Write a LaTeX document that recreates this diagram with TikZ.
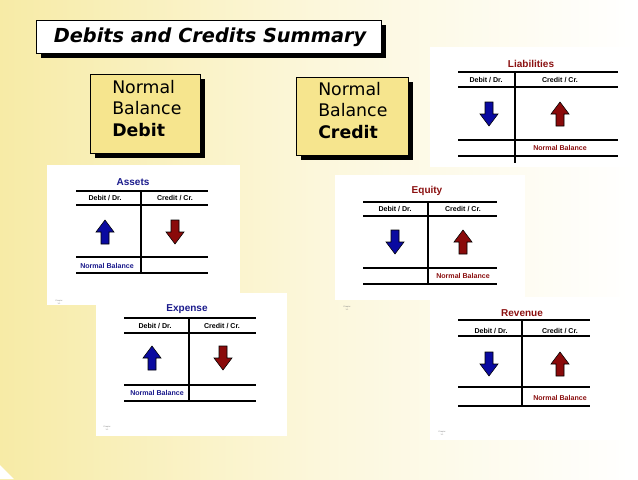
\documentclass[tikz,border=0pt]{standalone}
\usepackage{fontspec}
\setmainfont{Liberation Sans}
\newfontfamily\comic{DejaVu Sans}
\begin{document}
\begin{tikzpicture}[x=0.75pt,y=-0.75pt,
  panel/.style={fill=white,draw=none},
  rule/.style={line width=1.4pt,black},
  hdr/.style={font=\bfseries\fontsize{5.3}{6}\selectfont,inner sep=0pt},
  ttl/.style={font=\bfseries\fontsize{7.5}{8}\selectfont,inner sep=0pt},
  nb/.style={font=\comic\fontsize{13}{16}\selectfont,align=left,inner sep=0pt,anchor=north west},
  pics/uparr/.style={code={\draw[fill=#1,line width=0.4pt] (-4,12)--(-4,0)--(-9,0)--(0,-12)--(9,0)--(4,0)--(4,12)--cycle;}},
  pics/dnarr/.style={code={\draw[fill=#1,line width=0.4pt] (-4,-12)--(-4,0)--(-9,0)--(0,12)--(9,0)--(4,0)--(4,-12)--cycle;}},
  tiny/.style={font=\fontsize{1.5}{2}\selectfont,inner sep=0pt,gray}
]
\definecolor{bgy}{HTML}{F7EBA6}
\definecolor{boxy}{HTML}{F6E58E}
\definecolor{dred}{HTML}{8B1010}
\definecolor{navy}{HTML}{1A1A8C}
\definecolor{ablue}{HTML}{0A0AA0}
\definecolor{ared}{HTML}{8A0A0A}
\useasboundingbox (0,0) rectangle (638,479);
\shade[left color=bgy,right color=white,middle color=white!60!bgy] (0,0) rectangle (638,479);
\fill[white] (0,465)--(14,479)--(0,479)--cycle;
% title
\fill[black] (41,25) rectangle (386,58);
\draw[fill=white] (36,20) rectangle (381,53);
\node[inner sep=0pt,font=\comic\bfseries\itshape\fontsize{14.5}{16}\selectfont] (title) at (210,37) {Debits and Credits Summary};
% normal balance boxes
\fill[black] (95,79) rectangle (205,158);
\draw[fill=boxy] (90,74) rectangle (200,153);
\node[nb] (nbdt) at (112,80) {Normal\\Balance\\\bfseries Debit};
\fill[black] (301,82) rectangle (413,160);
\draw[fill=boxy] (296,77) rectangle (408,155);
\node[nb] (nbct) at (318,82) {Normal\\Balance\\\bfseries Credit};
% Liabilities
\fill[panel] (430,47) rectangle (630,167);
\node[ttl,dred] (lt) at (531,64) {Liabilities};
\draw[rule] (458,72)--(618,72) (458,87)--(618,87) (458,140)--(618,140) (458,156)--(618,156) (515,72)--(515,163);
\node[hdr] (ld) at (486,80) {Debit / Dr.};
\node[hdr] (lc) at (560,80) {Credit / Cr.};
\pic at (489,114) {dnarr=ablue};
\pic at (560,114) {uparr=ared};
\node[hdr,dred] (ln) at (560,148) {Normal Balance};
% Assets
\fill[panel] (47,165) rectangle (240,305);
\node[ttl,navy] (at) at (133,182) {Assets};
\draw[rule] (76,191)--(208,191) (76,205)--(208,205) (76,257)--(208,257) (76,273)--(208,273) (141,191)--(141,273);
\node[hdr] (ad) at (105,198) {Debit / Dr.};
\node[hdr] (ac) at (175,198) {Credit / Cr.};
\pic at (105,232) {uparr=ablue};
\pic at (175,232) {dnarr=ared};
\node[hdr,navy] (an) at (107,266) {Normal Balance};
\node[tiny,align=center] (ach) at (59,302) {Chapter\\1-1};
% Equity
\fill[panel] (335,175) rectangle (525,300);
\node[ttl,dred] (et) at (427,191) {Equity};
\draw[rule] (363,202)--(497,202) (363,216)--(497,216) (363,268)--(497,268) (363,284)--(497,284) (428,202)--(428,285);
\node[hdr] (ed) at (395,209) {Debit / Dr.};
\node[hdr] (ec) at (463,209) {Credit / Cr.};
\pic at (395,242) {dnarr=ablue};
\pic at (463,242) {uparr=ared};
\node[hdr,dred] (en) at (463,276) {Normal Balance};
\node[tiny,align=center] (ech) at (347,308) {Chapter\\1-1};
% Expense
\fill[panel] (96,293) rectangle (287,436);
\node[ttl,navy] (xt) at (187,309) {Expense};
\draw[rule] (124,318)--(256,318) (124,333)--(256,333) (124,385)--(256,385) (124,401)--(256,401) (189,318)--(189,402);
\node[hdr] (xd) at (155,326) {Debit / Dr.};
\node[hdr] (xc) at (222,326) {Credit / Cr.};
\pic at (152,358) {uparr=ablue};
\pic at (223,358) {dnarr=ared};
\node[hdr,navy] (xn) at (157,393) {Normal Balance};
\node[tiny,align=center] (xch) at (107,428) {Chapter\\1-1};
% Revenue
\fill[panel] (430,297) rectangle (620,440);
\node[ttl,dred] (rt) at (522,313) {Revenue};
\draw[rule] (458,320)--(590,320) (458,336)--(590,336) (458,387)--(590,387) (458,406)--(590,406) (522,320)--(522,406);
\node[hdr] (rd) at (491,331) {Debit / Dr.};
\node[hdr] (rc) at (560,331) {Credit / Cr.};
\pic at (489,364) {dnarr=ablue};
\pic at (560,364) {uparr=ared};
\node[hdr,dred] (rn) at (560,398) {Normal Balance};
\node[tiny,align=center] (rch) at (442,433) {Chapter\\1-1};
\end{tikzpicture}
\end{document}
